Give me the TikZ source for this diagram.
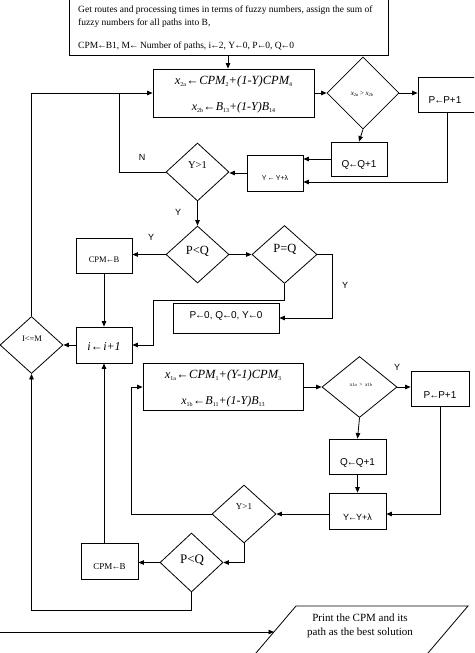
\documentclass[tikz,border=0pt]{standalone}
\usepackage{fontspec}
\setmainfont{Liberation Serif}
\setsansfont{Liberation Sans}
\usetikzlibrary{arrows.meta,shapes.geometric,calc}
\newcommand\fsz[1]{\fontsize{#1}{#1}\selectfont}
\newcommand\sbx[1]{\raisebox{-0.35ex}{\fontsize{6}{6}\selectfont\upshape #1}}
\newcommand\sbt[1]{\raisebox{-0.3ex}{\fontsize{4.5}{4.5}\selectfont #1}}
\newcommand\la{\kern-0.1em←\kern-0.1em}
\newcommand\lai{\kern0.03em←\kern0.03em}
\begin{document}
\begin{tikzpicture}[x=1pt,y=-1pt,
  box/.style={draw, line width=0.8pt, inner sep=0pt},
  dia/.style={draw, diamond, line width=0.8pt, inner sep=0pt},
  ln/.style={line width=0.8pt},
  arr/.style={line width=0.8pt, -{Triangle[length=5.5pt,width=4.5pt]}},
  txt/.style={inner sep=0pt},
  lab/.style={inner sep=0pt, font=\sffamily\fsz{9}}]
\useasboundingbox (0,0) rectangle (474,653);
\clip (0,0) rectangle (474,653);

% ---------- boxes ----------
\node[box, minimum width=319pt, minimum height=65pt] (top) at (228.5,22.5) {};
\node[txt, anchor=west] (t1) at (78,10) {\fsz{9.5}Get routes and processing times in terms of fuzzy numbers, assign the sum of};
\node[txt, anchor=west] (t2) at (78,23) {\fsz{9.5}fuzzy numbers for all paths into B,};
\node[txt, anchor=west] (t3) at (78,46) {\fsz{9.5}CPM\la B1, M\la{} Number of paths, i\la 2, Y\la 0, P\la 0, Q\la 0};

\node[box, minimum width=161pt, minimum height=48pt] (f1) at (233.5,93) {};
\node[txt] (f1a) at (233.5,81) {\fsz{12.5}\itshape x\sbx{2a}\lai CPM\sbx{2}+(1-Y)CPM\sbx{4}};
\node[txt] (f1b) at (233.5,108) {\fsz{12}\itshape x\sbx{2b}\lai B\sbx{13}+(1-Y)B\sbx{14}};

\node[dia, minimum width=72pt, minimum height=72pt] (d1) at (363,93) {};
\node[txt] (d1t) at (362,94) {\fsz{7}\itshape x\sbt{2a}\,>\,x\sbt{2b}};

\node[box, minimum width=58pt, minimum height=35pt] (pp1) at (447,94.5) {};
\node[txt] (pp1t) at (445,100) {\sffamily\fsz{10}P\la P+1};

\node[box, minimum width=56pt, minimum height=34pt] (q1) at (359,159) {};
\node[txt] (q1t) at (359,165) {\sffamily\fsz{10}Q\la Q+1};

\node[box, minimum width=56pt, minimum height=36pt] (y1) at (275,173) {};
\node[txt] (y1t) at (275,178) {\sffamily\fsz{7}Y \la{} Y+λ};

\node[dia, minimum width=63pt, minimum height=58pt] (dY1) at (197.5,172) {};
\node[txt] (dY1t) at (197.5,165) {\fsz{10.5}Y>1};

\node[dia, minimum width=63pt, minimum height=57pt] (dP1) at (197.5,254.5) {};
\node[txt] (dP1t) at (197.5,251) {\fsz{12.5}P<Q};

\node[dia, minimum width=65pt, minimum height=58pt] (dE) at (284.5,254.5) {};
\node[txt] (dEt) at (285,249) {\fsz{12.5}P=Q};

\node[box, minimum width=56pt, minimum height=35pt] (cb1) at (104,255.5) {};
\node[txt] (cb1t) at (104,260) {\fsz{8.5}CPM\la B};

\node[box, minimum width=106pt, minimum height=30pt] (rs) at (226,318) {};
\node[txt] (rst) at (226,316) {\sffamily\fsz{10}P\la 0, Q\la 0, Y\la 0};

\node[box, minimum width=56pt, minimum height=36pt] (inc) at (104,345) {};
\node[txt] (inct) at (104,347) {\fsz{12}\itshape i\lai i+1};

\node[dia, minimum width=63pt, minimum height=57pt] (dM) at (31.5,345) {};
\node[txt] (dMt) at (32,339) {\fsz{8.5}I<=M};

\node[box, minimum width=160pt, minimum height=47pt] (f2) at (223,387) {};
\node[txt] (f2a) at (223,375) {\fsz{12.5}\itshape x\sbx{1a}\lai CPM\sbx{1}+(Y-1)CPM\sbx{3}};
\node[txt] (f2b) at (223,402) {\fsz{12}\itshape x\sbx{1b}\lai B\sbx{11}+(1-Y)B\sbx{13}};

\node[dia, minimum width=75pt, minimum height=61pt] (d2) at (359.5,387) {};
\node[txt] (d2t) at (361,385) {\fsz{5.5}\itshape x\sbt{1a}\, > \,x\sbt{1b}};

\node[box, minimum width=58pt, minimum height=35pt] (pp2) at (440,388.5) {};
\node[txt] (pp2t) at (440,395) {\sffamily\fsz{10}P\la P+1};

\node[box, minimum width=57pt, minimum height=35pt] (q2) at (357.5,456.5) {};
\node[txt] (q2t) at (357.5,463) {\sffamily\fsz{10}Q\la Q+1};

\node[box, minimum width=57pt, minimum height=36pt] (y2) at (357.5,511) {};
\node[txt] (y2t) at (357.5,517) {\sffamily\fsz{9}Y\la Y+λ};

\node[dia, minimum width=64pt, minimum height=58pt] (dY2) at (244,514) {};
\node[txt] (dY2t) at (244,507) {\fsz{9}Y>1};

\node[dia, minimum width=63pt, minimum height=59pt] (dP2) at (191.5,562.5) {};
\node[txt] (dP2t) at (192,560) {\fsz{13}P<Q};

\node[box, minimum width=57pt, minimum height=36pt] (cb2) at (109.5,561) {};
\node[txt] (cb2t) at (109.5,567) {\fsz{9}CPM\la B};

% output parallelogram
\draw[ln] (296,606) -- (468,606) -- (405,680) -- (233,680) -- cycle;
\coordinate (pin) at (274,632);
\node[txt] (pt1) at (360,618) {\fsz{11}Print the CPM and its};
\node[txt] (pt2) at (360,633) {\fsz{11}path as the best solution};

% ---------- connectors ----------
\draw[arr] (top.south -| 228,0) -- (f1.north -| 228,0);
\draw[arr] (f1.east) -- (d1.west);
\draw[arr] (d1.east) -- (d1.east -| pp1.west);
\draw[arr] (d1.south) -- (q1.north);
\draw[arr] (pp1.south) |- ($(y1.east)+(0,9)$);
\draw[arr] (q1.west) -- (q1.west -| y1.east);
\draw[arr] (y1.west) -- (y1.west -| dY1.east);
\draw[ln] (dY1.west) -| ($(f1.west)+(-33,0)$);
\draw[arr] (dM.north) |- (f1.west);
\draw[arr] (dY1.south) -- (dP1.north);
\draw[arr] (dP1.west) -- (dP1.west -| cb1.east);
\draw[arr] (dP1.east) -- (dE.west);
\draw[arr] (dE.east) -- ++(15,0) |- (rs.east);
\draw[arr] (dE.south) -- ++(0,16) -| ($(inc.east)+(21,0)$) -- (inc.east);
\draw[arr] (cb1.south) -- (inc.north);
\draw[arr] (inc.west) -- (dM.east);
\draw[arr] (dY2.west) -| ($(f2.west)+(-11,0)$) -- (f2.west);
\draw[arr] (f2.east) -- (d2.west);
\draw[arr] (d2.east) -- (d2.east -| pp2.west);
\draw[arr] (d2.south) -- (q2.north);
\draw[arr] (pp2.south) |- (y2.east |- dY2.east);
\draw[arr] (q2.south) -- (y2.north);
\draw[arr] (y2.west |- dY2.east) -- (dY2.east);
\draw[arr] (dY2.south) |- (dP2.east);
\draw[arr] (dP2.west) -- (dP2.west -| cb2.east);
\draw[arr] (inc.south |- cb2.north) -- (inc.south);
\draw[arr] (dP2.south) -- ++(0,18) -| (dM.south);
\draw[arr] (dM.west) -- ++(-10,0) |- (pin);

% ---------- branch labels ----------
\node[lab] (lN) at (142,157) {N};
\node[lab] (lY1) at (178,212) {Y};
\node[lab] (lY2) at (151,237) {Y};
\node[lab] (lY3) at (345,285) {Y};
\node[lab] (lY4) at (397,367) {Y};
\end{tikzpicture}
\end{document}
